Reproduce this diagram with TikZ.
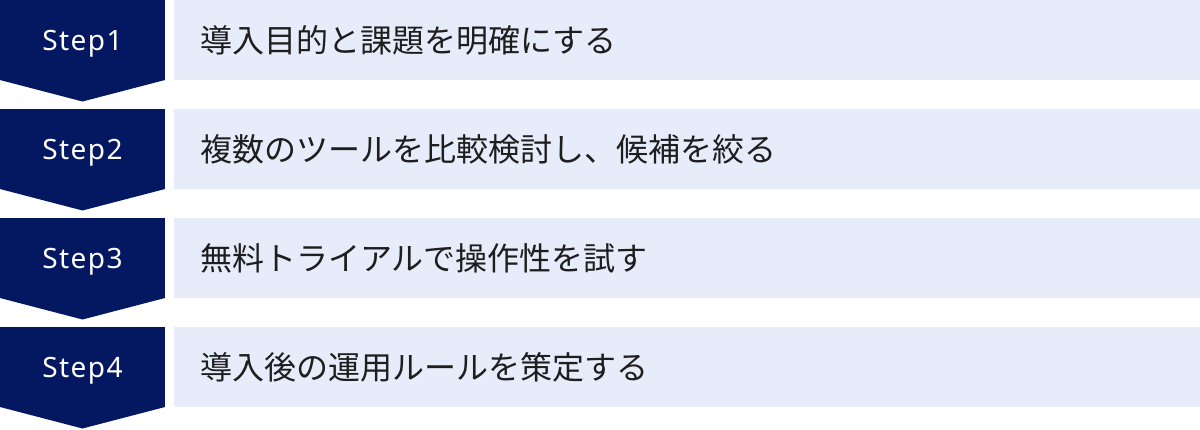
\documentclass[tikz,border=0pt]{standalone}
\usepackage{fontspec}
\newfontfamily\jpfont{Noto Sans CJK JP}
\newfontfamily\stepfont[LetterSpace=5]{Noto Sans}
\usetikzlibrary{positioning}
\definecolor{stepnavy}{HTML}{041862}
\definecolor{tasklight}{HTML}{E6ECFA}
\definecolor{tasktext}{HTML}{1E1E1E}

\begin{document}
\begin{tikzpicture}[x=0.5pt, y=-0.5pt,
  stepbox/.style={fill=stepnavy, text=white, minimum width=82.5pt, minimum height=40pt,
    inner sep=0pt, outer sep=0pt, text depth=0pt, font=\stepfont\fontsize{14}{16}\selectfont},
  taskbox/.style={fill=tasklight, text=tasktext, minimum height=40pt, text width=487pt,
    inner xsep=13pt, inner ysep=0pt, outer sep=0pt, align=left,
    font=\jpfont\fontsize{16}{19}\selectfont}]
  \useasboundingbox (0,0) rectangle (1200,429);

  \node[stepbox, anchor=north west] (step1) at (0,0) {Step1};
  \node[stepbox, below=14.5pt of step1] (step2) {Step2};
  \node[stepbox, below=14.5pt of step2] (step3) {Step3};
  \node[stepbox, below=14.5pt of step3] (step4) {Step4};

  \node[taskbox, right=4.5pt of step1] (task1) {導入目的と課題を明確にする};
  \node[taskbox, right=4.5pt of step2] (task2) {複数のツールを比較検討し、候補を絞る};
  \node[taskbox, right=4.5pt of step3] (task3) {無料トライアルで操作性を試す};
  \node[taskbox, right=4.5pt of step4] (task4) {導入後の運用ルールを策定する};

  % chevron tips under each step
  \fill[stepnavy] (step1.south west) -- (step1.south east) -- ([yshift=-10.75pt]step1.south) -- cycle;
  \fill[stepnavy] (step2.south west) -- (step2.south east) -- ([yshift=-10.75pt]step2.south) -- cycle;
  \fill[stepnavy] (step3.south west) -- (step3.south east) -- ([yshift=-10.75pt]step3.south) -- cycle;
  \fill[stepnavy] (step4.south west) -- (step4.south east) -- ([yshift=-10.75pt]step4.south) -- cycle;
\end{tikzpicture}
\end{document}
